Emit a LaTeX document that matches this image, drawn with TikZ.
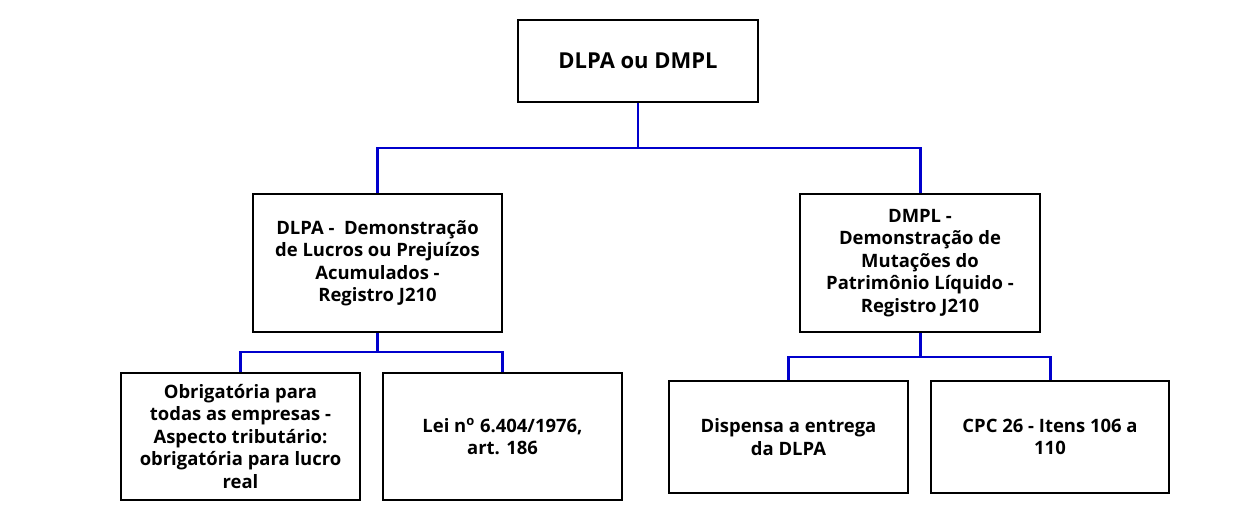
\documentclass[tikz,border=0pt]{standalone}
\usepackage{fontspec}
\setmainfont{Open Sans}
\usetikzlibrary{calc}
\begin{document}
\begin{tikzpicture}[
    x=0.02cm, y=-0.02cm,
    box/.style={draw, line width=1.2pt, align=center, inner sep=2pt,
        font=\bfseries\fontsize{10.5}{12.8}\selectfont},
    link/.style={blue!80!black, line width=1.7pt},
    ]
    \useasboundingbox (0,0) rectangle (1252,516);

    % Top
    \node[box, minimum width=240*0.02cm, minimum height=82*0.02cm,
          font=\bfseries\fontsize{12.5}{15}\selectfont] (top) at (638,61) {DLPA ou DMPL};

    % Second level
    \node[box, minimum width=249*0.02cm, minimum height=138*0.02cm] (dlpa) at (377.5,263)
        {DLPA -\ \ Demonstração\\de Lucros ou Prejuízos\\Acumulados -\\Registro J210};
    \node[box, minimum width=240*0.02cm, minimum height=138*0.02cm] (dmpl) at (920,263)
        {DMPL -\\Demonstração de\\Mutações do\\Patrimônio Líquido -\\Registro J210};

    % Third level
    \node[box, minimum width=239*0.02cm, minimum height=127*0.02cm] (obr) at (240.5,436.5)
        {Obrigatória para\\todas as empresas -\\Aspecto tributário:\\obrigatória para lucro\\real};
    \node[box, minimum width=239*0.02cm, minimum height=127*0.02cm] (lei) at (502.5,436.5)
        {Lei n\textsuperscript{o} 6.404/1976,\\art. 186};
    \node[box, minimum width=239*0.02cm, minimum height=112*0.02cm] (disp) at (788.5,437)
        {Dispensa a entrega\\da DLPA};
    \node[box, minimum width=238*0.02cm, minimum height=112*0.02cm] (cpc) at (1050,437)
        {CPC 26 - Itens 106 a\\110};

    % Connectors
    \draw[link] (top.south) |- (377.5,148) -- (dlpa.north);
    \draw[link] (top.south) |- (920,148) -- (dmpl.north);
    \draw[link] (dlpa.south) |- (240.5,352) -- (obr.north);
    \draw[link] (dlpa.south) |- (502.5,352) -- (lei.north);
    \draw[link] (dmpl.south) |- (788.5,357) -- (disp.north);
    \draw[link] (dmpl.south) |- (1050,357) -- (cpc.north);
\end{tikzpicture}
\end{document}
